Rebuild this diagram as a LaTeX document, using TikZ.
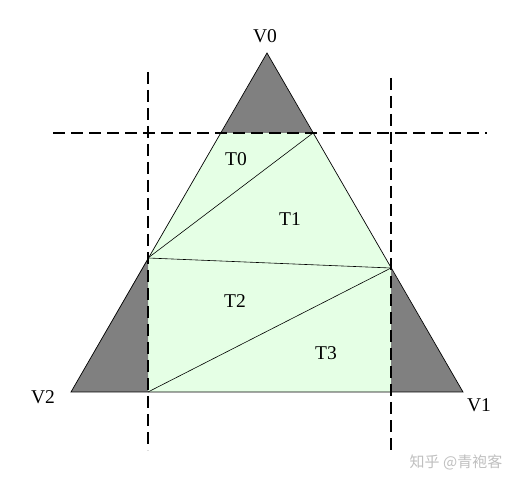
\documentclass[tikz,border=0pt]{standalone}
\usepackage{fontspec}
\setmainfont{Liberation Serif}
\newfontfamily\cjk{Noto Sans CJK SC}
\begin{document}
\begin{tikzpicture}[x=1pt,y=-1pt,
  gshade/.style={fill=black!50, draw=none},
  edge/.style={draw=black, line width=0.7pt},
  dashln/.style={draw=black, line width=1.6pt, dash pattern=on 12pt off 6pt},
  lbl/.style={font=\fontsize{19.5}{22}\selectfont, inner sep=0pt}]
\useasboundingbox (0,0) rectangle (515,484);
\coordinate (V0) at (267,53);
\coordinate (V1) at (463,392);
\coordinate (V2) at (71,392);
\coordinate (a) at (221,133);
\coordinate (b) at (313,133);
\coordinate (c) at (391,268);
\coordinate (d) at (391,392);
\coordinate (e) at (148,392);
\coordinate (f) at (148,258);
% green clipped region
\fill[green!10] (a) -- (b) -- (c) -- (d) -- (e) -- (f) -- cycle;
% gray cut-off triangles
\fill[gshade] (V0) -- (a) -- (b) -- cycle;
\fill[gshade] (f) -- (V2) -- (e) -- cycle;
\fill[gshade] (c) -- (V1) -- (d) -- cycle;
% outer triangle
\draw[edge] (V0) -- (V1) -- (V2) -- cycle;
% inner triangulation
\draw[edge, line width=0.6pt] (f) -- (b);
\draw[edge, line width=0.6pt] (f) -- (c);
\draw[edge, line width=0.6pt] (e) -- (c);
% dashed clip lines
\coordinate (hl) at (53,133); \coordinate (hr) at (487,133);
\coordinate (lt) at (148,72); \coordinate (lb) at (148,450);
\coordinate (rt) at (391,78); \coordinate (rb) at (391,450);
\draw[dashln] (hl) -- (hr);
\draw[dashln] (lt) -- (lb);
\draw[dashln] (rt) -- (rb);
% labels
\node[lbl] (lV0) at (265,36) {V0};
\node[lbl] (lV1) at (479,405) {V1};
\node[lbl] (lV2) at (43,397) {V2};
\node[lbl] (lT0) at (236,159) {T0};
\node[lbl] (lT1) at (290,219) {T1};
\node[lbl] (lT2) at (235,301) {T2};
\node[lbl] (lT3) at (326,353) {T3};
\node[font=\cjk\fontsize{15}{17}\selectfont, text=black!25, inner sep=0pt] (wm) at (456,462) {知乎 @青袍客};
\end{tikzpicture}
\end{document}
